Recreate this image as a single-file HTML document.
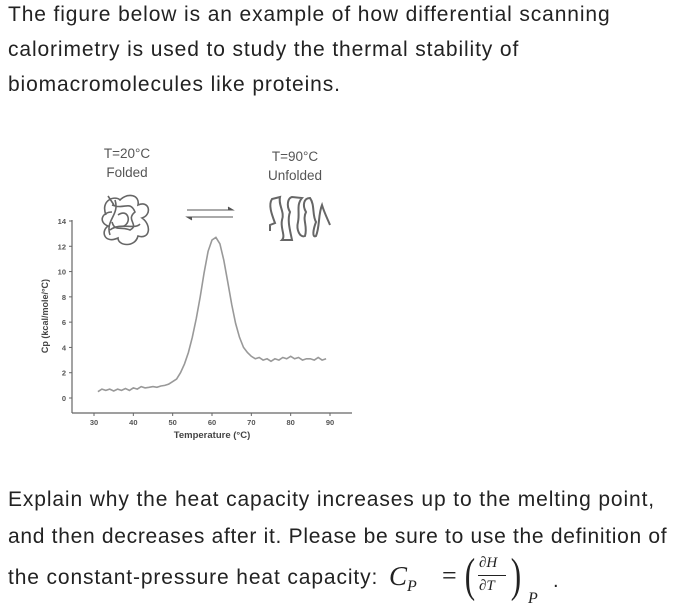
<!DOCTYPE html>
<html><head><meta charset="utf-8"><style>
body{margin:0;width:683px;height:613px;background:#fff;position:relative;overflow:hidden;font-family:"Liberation Sans",sans-serif;color:#222}
.t{position:absolute;left:8px;font-size:21px;white-space:nowrap;letter-spacing:0.88px}
.m{font-family:"Liberation Serif",serif;font-style:italic;position:absolute}
</style></head><body>
<div class="t" style="top:3px">The figure below is an example of how differential scanning</div>
<div class="t" style="top:38px">calorimetry is used to study the thermal stability of</div>
<div class="t" style="top:73px">biomacromolecules like proteins.</div>
<div class="t" style="top:488px">Explain why the heat capacity increases up to the melting point,</div>
<div class="t" style="top:525px;letter-spacing:0.7px">and then decreases after it. Please be sure to use the definition of</div>
<div class="t" style="top:566px">the constant-pressure heat capacity:</div>
<div>
<span class="m" style="left:389px;top:561px;font-size:27px">C</span>
<span class="m" style="left:407px;top:578px;font-size:16px">P</span>
<span style="position:absolute;left:442px;top:561px;font-size:26px;font-family:'Liberation Serif',serif">=</span>
<span style="position:absolute;left:462px;top:548px;font-size:48px;font-family:'Liberation Serif',serif;transform:scaleX(0.65)">(</span>
<span class="m" style="left:479px;top:555px;font-size:15px">∂H</span>
<div style="position:absolute;left:478px;top:575px;width:28px;height:1px;background:#222"></div>
<span class="m" style="left:479px;top:578px;font-size:15px">∂T</span>
<span style="position:absolute;left:508px;top:548px;font-size:48px;font-family:'Liberation Serif',serif;transform:scaleX(0.65)">)</span>
<span class="m" style="left:528px;top:590px;font-size:16px">P</span>
<span style="position:absolute;left:553px;top:570px;font-size:20px">.</span>
</div>
<svg width="683" height="613" style="position:absolute;left:0;top:0">
<g id="chart" font-family="Liberation Sans, sans-serif" fill="#555"></g>
<g stroke="#666" fill="none" stroke-width="1.6">
<path d="M106 215 C100 200 115 195 120 200 C128 192 140 195 138 205 C150 200 152 215 142 218 C152 225 150 240 138 236 C135 248 118 246 118 238 C105 244 100 232 108 226 C98 222 102 212 112 212 M112 205 C125 210 130 200 135 212 C125 220 140 225 130 230 C120 226 115 232 112 222 M118 215 C128 208 132 222 124 226 M108 196 L114 205 M110 230 C120 222 135 230 140 224 M115 200 C120 215 105 220 110 235"/>
</g>
<g stroke="#555" stroke-width="1">
<line x1="187" y1="210" x2="232" y2="210"/><path d="M228 207 L233 210 L228 210" fill="#555"/>
<line x1="188" y1="217" x2="233" y2="217"/><path d="M192 217 L187 217 L192 220" fill="#555"/>
</g>
<g stroke="#666" fill="none" stroke-width="2">
<path d="M270 231 L270 225 L275 223 C272 215 268 205 272 199 L280 197 C278 205 285 212 282 220 C280 228 286 236 282 240 L292 240 C290 230 287 220 290 212 C286 205 288 198 292 197 L302 198 C296 205 300 212 298 222 C296 230 300 238 305 236 C308 226 302 220 306 212 C302 205 304 198 310 198 C315 205 312 215 316 222 C313 230 312 238 316 236 C320 226 318 215 322 205 C324 212 328 220 330 225"/>
</g>
</svg>
<script>
const ticksY=[0,2,4,6,8,10,12,14];
const ticksX=[30,40,50,60,70,80,90];
const temps=[31,32,33,34,35,36,37,38,39,40,41,42,43,44,45,46,47,48,49,50,51,52,53,54,55,56,57,58,59,60,61,62,63,64,65,66,67,68,69,70,71,72,73,74,75,76,77,78,79,80,81,82,83,84,85,86,87,88,89];
const cps=[0.5,0.7,0.6,0.7,0.55,0.7,0.6,0.75,0.6,0.8,0.7,0.9,0.8,0.85,0.9,0.85,0.95,1.0,1.1,1.3,1.5,2.0,2.7,3.6,4.8,6.3,8.0,9.9,11.6,12.5,12.7,12.2,10.9,9.2,7.4,5.9,4.8,4.0,3.6,3.3,3.1,3.2,3.0,3.1,2.9,3.1,3.0,3.2,3.1,3.3,3.1,3.2,3.0,3.1,3.1,3.0,3.2,3.0,3.1];
const NS='http://www.w3.org/2000/svg';
const g=document.getElementById('chart');
const xs=t=>94+(t-30)*(236/60);
const ys=v=>398-v*(177/14);
function mk(tag,attrs){const e=document.createElementNS(NS,tag);for(const k in attrs)e.setAttribute(k,attrs[k]);g.appendChild(e);return e;}
let e=mk('line',{x1:72,y1:220,x2:72,y2:413,stroke:'#666','stroke-width':1.2});


e=mk('line',{x1:72,y1:413,x2:352,y2:413,stroke:'#666','stroke-width':1.2});


ticksY.forEach(v=>{mk('line',{x1:69,y1:ys(v),x2:72,y2:ys(v),stroke:'#666'});
 const t=mk('text',{x:66,y:ys(v)+3,'font-size':7.5,'text-anchor':'end','font-weight':'bold'});t.textContent=v;
 
 });
ticksX.forEach(v=>{mk('line',{x1:xs(v),y1:413,x2:xs(v),y2:416,stroke:'#666'});
 const t=mk('text',{x:xs(v),y:425,'font-size':7.5,'text-anchor':'middle','font-weight':'bold'});t.textContent=v;
 
 });
let t=mk('text',{x:212,y:438,'font-size':9.5,'text-anchor':'middle','font-weight':'bold',fill:'#444'});t.textContent='Temperature (°C)';


t=mk('text',{x:0,y:0,'font-size':9,'text-anchor':'middle','font-weight':'bold',fill:'#444',transform:'translate(48,316) rotate(-90)'});t.textContent='Cp (kcal/mole/°C)';


[['T=20°C',127,158],['Folded',127,177],['T=90°C',295,161],['Unfolded',295,180]].forEach(a=>{const s=mk('text',{x:a[1],y:a[2],'font-size':13.5,'text-anchor':'middle',fill:'#555'});s.textContent=a[0];
 
 });
const p=mk('path',{d:temps.map((T,i)=>(i?'L':'M')+xs(T).toFixed(1)+' '+ys(cps[i]).toFixed(1)).join(' '),fill:'none',stroke:'#999','stroke-width':1.6});


</script>
</body></html>
